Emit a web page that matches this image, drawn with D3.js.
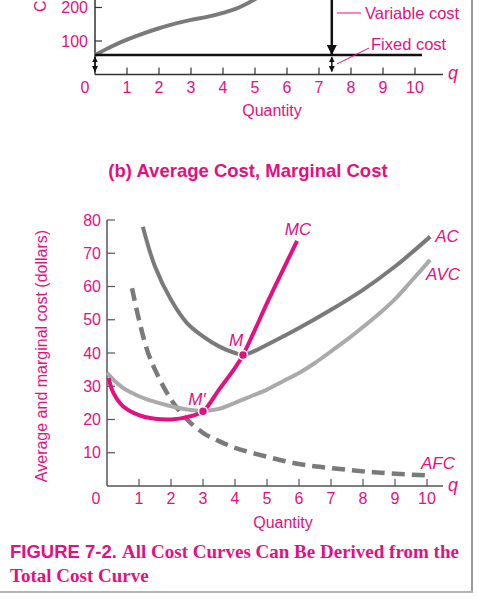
<!DOCTYPE html>
<html>
<head>
<meta charset="utf-8">
<script src="https://cdn.jsdelivr.net/npm/d3@7"></script>
<style>
  body { margin: 0; background: #fff; }
  svg { display: block; font-family: "Liberation Sans", Arial, sans-serif; }
</style>
</head>
<body>
<svg id="chart" width="479" height="600"></svg>
<script>
// data
const qTicks = [1, 2, 3, 4, 5, 6, 7, 8, 9, 10];
const tcTicks = [100, 200];
const costTicks = [10, 20, 30, 40, 50, 60, 70, 80];
const fixedCost = 58;

// (a) total cost (only the lower part is visible)
const tcQ = [0, 0.5, 1, 1.5, 2, 2.5, 3, 3.5, 4, 4.5, 5, 5.4];
const tcV = [58, 83, 104, 122, 138, 152, 163, 172, 184, 200, 225, 252];

// (b) average & marginal cost
const acQ = [1.12, 1.5, 2, 2.5, 3, 3.5, 4, 4.3, 5, 6, 7, 8, 9, 10.1];
const acV = [78, 66, 56, 49, 45, 42, 40, 39.5, 42.5, 47.5, 53, 59, 66, 75];
const avcQ = [0, 0.25, 0.5, 1, 1.5, 2, 2.5, 3, 3.5, 4, 4.5, 5, 5.5, 6, 6.5, 7, 7.5, 8, 8.5, 9, 9.5, 10.1];
const avcV = [34, 31.5, 29.5, 27, 25.3, 24, 23, 22.6, 23.2, 25, 27, 29, 31.5, 34, 37, 40.5, 44, 47.8, 51.8, 56.2, 61.5, 68];
const afcQ = [0.78, 1, 1.25, 1.5, 2, 2.5, 3, 3.5, 4, 5, 6, 7, 8, 9, 10.15];
const afcV = [59.5, 50, 41, 35, 26, 20, 16, 13.5, 11.5, 8.8, 6.6, 5.4, 4.4, 3.7, 3.1];
const mcQ = [0.05, 0.2, 0.5, 1, 1.5, 2, 2.5, 3, 3.5, 4, 4.25, 4.6, 5, 5.5, 5.94];
const mcV = [32.5, 28, 24, 21.3, 20.2, 20, 20.7, 22.5, 29, 35.5, 39.4, 46.5, 55, 65, 73.7];
const pointM = [4.25, 39.4];
const pointM2 = [3.0, 22.5];

const pink = "#e2117f";
const svg = d3.select("#chart");
const zip = (xs, ys) => xs.map((x, i) => [x, ys[i]]);

// card edge / shadow
svg.append("line").attr("x1", 472).attr("x2", 472).attr("y1", 0).attr("y2", 592)
  .attr("stroke", "#9a9a9a").attr("stroke-width", 2);
svg.append("line").attr("x1", 0).attr("x2", 473).attr("y1", 592).attr("y2", 592)
  .attr("stroke", "#b5b5b5").attr("stroke-width", 2);

// ---------- panel (a) ----------
const xa = d3.scaleLinear().domain([0, 10]).range([95, 415]);
const ya = d3.scaleLinear().domain([0, 200]).range([74.5, 7.5]);

const ga = svg.append("g");
ga.append("line").attr("x1", xa(0)).attr("x2", 443).attr("y1", ya(0)).attr("y2", ya(0))
  .attr("stroke", "#333").attr("stroke-width", 1.5);
ga.append("line").attr("x1", xa(0)).attr("x2", xa(0)).attr("y1", 0).attr("y2", ya(0))
  .attr("stroke", "#333").attr("stroke-width", 1.5);
ga.selectAll(".xt").data(qTicks).join("line")
  .attr("x1", d => xa(d)).attr("x2", d => xa(d))
  .attr("y1", ya(0)).attr("y2", ya(0) - 7).attr("stroke", "#333").attr("stroke-width", 1.2);
ga.selectAll(".yt").data(tcTicks).join("line")
  .attr("x1", xa(0)).attr("x2", xa(0) + 7)
  .attr("y1", d => ya(d)).attr("y2", d => ya(d)).attr("stroke", "#333").attr("stroke-width", 1.2);
ga.selectAll(".xl").data([0].concat(qTicks)).join("text")
  .attr("x", d => d === 0 ? xa(0) - 10 : xa(d)).attr("y", 93)
  .attr("text-anchor", "middle").attr("fill", pink).attr("font-size", 16).text(d => d);
ga.selectAll(".yl").data(tcTicks).join("text")
  .attr("x", 88).attr("y", d => ya(d) + 5.5)
  .attr("text-anchor", "end").attr("fill", pink).attr("font-size", 16).text(d => d);
ga.append("text").attr("x", 272).attr("y", 116).attr("text-anchor", "middle")
  .attr("fill", pink).attr("font-size", 16).text("Quantity");
ga.append("text").attr("x", 453).attr("y", 79).attr("text-anchor", "middle")
  .attr("fill", pink).attr("font-size", 18).attr("font-style", "italic").text("q");
// axis title of panel (a): only its first letter shows at the top edge
ga.append("text").attr("transform", "translate(46,12) rotate(-90)")
  .attr("text-anchor", "start").attr("fill", pink).attr("font-size", 16).text("Cost (dollars)");

ga.append("path").datum(zip(tcQ, tcV))
  .attr("d", d3.line().x(d => xa(d[0])).y(d => ya(d[1])).curve(d3.curveMonotoneX))
  .attr("fill", "none").attr("stroke", "#7a7a7a").attr("stroke-width", 4);

// fixed cost line
ga.append("line").attr("x1", xa(0)).attr("x2", 422).attr("y1", ya(fixedCost)).attr("y2", ya(fixedCost))
  .attr("stroke", "#111").attr("stroke-width", 2.5);

// arrows
const defs = svg.append("defs");
defs.append("marker").attr("id", "ah").attr("viewBox", "0 0 10 10").attr("refX", 9).attr("refY", 5)
  .attr("markerWidth", 4).attr("markerHeight", 4).attr("orient", "auto-start-reverse")
  .append("path").attr("d", "M0,0L10,5L0,10z").attr("fill", "#111");

const qArrow = 7.4;
ga.append("line").attr("x1", xa(qArrow)).attr("x2", xa(qArrow)).attr("y1", 0).attr("y2", ya(fixedCost) - 1)
  .attr("stroke", "#111").attr("stroke-width", 2.5).attr("marker-end", "url(#ah)");
[0, qArrow].forEach(q => {
  ga.append("line").attr("x1", xa(q)).attr("x2", xa(q)).attr("y1", ya(fixedCost) + 2).attr("y2", ya(0) - 3)
    .attr("stroke", "#111").attr("stroke-width", 1.5)
    .attr("marker-start", "url(#ah)").attr("marker-end", "url(#ah)");
});
ga.append("line").attr("x1", 337).attr("x2", 361).attr("y1", 13).attr("y2", 13)
  .attr("stroke", pink).attr("stroke-width", 1);
ga.append("text").attr("x", 365).attr("y", 19).attr("fill", pink).attr("font-size", 16.5).text("Variable cost");
ga.append("line").attr("x1", 337).attr("x2", 369).attr("y1", 64).attr("y2", 48)
  .attr("stroke", pink).attr("stroke-width", 1);
ga.append("text").attr("x", 371).attr("y", 50).attr("fill", pink).attr("font-size", 16.5).text("Fixed cost");

// ---------- panel (b) ----------
svg.append("text").attr("x", 248).attr("y", 177).attr("text-anchor", "middle")
  .attr("fill", pink).attr("font-size", 18.5).attr("font-weight", "bold")
  .text("(b) Average Cost, Marginal Cost");

const xb = d3.scaleLinear().domain([0, 10]).range([107, 427]);
const yb = d3.scaleLinear().domain([0, 80]).range([486, 220]);
const gb = svg.append("g");

gb.append("line").attr("x1", xb(0)).attr("x2", 443).attr("y1", yb(0)).attr("y2", yb(0))
  .attr("stroke", "#555").attr("stroke-width", 1.5);
gb.append("line").attr("x1", xb(0)).attr("x2", xb(0)).attr("y1", yb(80)).attr("y2", yb(0))
  .attr("stroke", "#555").attr("stroke-width", 1.5);
gb.selectAll(".xt").data(qTicks).join("line")
  .attr("x1", d => xb(d)).attr("x2", d => xb(d))
  .attr("y1", yb(0)).attr("y2", yb(0) - 7).attr("stroke", "#555").attr("stroke-width", 1.2);
gb.selectAll(".yt").data(costTicks).join("line")
  .attr("x1", xb(0)).attr("x2", xb(0) + 8)
  .attr("y1", d => yb(d)).attr("y2", d => yb(d)).attr("stroke", "#555").attr("stroke-width", 1.2);
gb.selectAll(".xl").data([0].concat(qTicks)).join("text")
  .attr("x", d => d === 0 ? xb(0) - 11 : xb(d)).attr("y", 504)
  .attr("text-anchor", "middle").attr("fill", pink).attr("font-size", 16).text(d => d);
gb.selectAll(".yl").data(costTicks).join("text")
  .attr("x", 101).attr("y", d => yb(d) + 5.5)
  .attr("text-anchor", "end").attr("fill", pink).attr("font-size", 16).text(d => d);
gb.append("text").attr("x", 283).attr("y", 528).attr("text-anchor", "middle")
  .attr("fill", pink).attr("font-size", 16).text("Quantity");
gb.append("text").attr("x", 453).attr("y", 491).attr("text-anchor", "middle")
  .attr("fill", pink).attr("font-size", 18).attr("font-style", "italic").text("q");
gb.append("text").attr("transform", "translate(47,356) rotate(-90)")
  .attr("text-anchor", "middle").attr("fill", pink).attr("font-size", 16)
  .text("Average and marginal cost (dollars)");

const lineB = d3.line().x(d => xb(d[0])).y(d => yb(d[1])).curve(d3.curveCatmullRom);
gb.append("path").datum(zip(afcQ, afcV)).attr("d", lineB)
  .attr("fill", "none").attr("stroke", "#7a7a7a").attr("stroke-width", 4.5)
  .attr("stroke-dasharray", "13,7");
gb.append("path").datum(zip(avcQ, avcV)).attr("d", lineB)
  .attr("fill", "none").attr("stroke", "#aaaaaa").attr("stroke-width", 4);
gb.append("path").datum(zip(acQ, acV)).attr("d", lineB)
  .attr("fill", "none").attr("stroke", "#7a7a7a").attr("stroke-width", 4);
gb.append("path").datum(zip(mcQ, mcV)).attr("d", lineB)
  .attr("fill", "none").attr("stroke", pink).attr("stroke-width", 4);

[pointM, pointM2].forEach(p => {
  gb.append("circle").attr("cx", xb(p[0])).attr("cy", yb(p[1])).attr("r", 4.5)
    .attr("fill", pink).attr("stroke", "#fff").attr("stroke-width", 1.5);
});

const lab = (x, y, t) => gb.append("text").attr("x", x).attr("y", y).attr("text-anchor", "middle")
  .attr("fill", pink).attr("font-size", 17).attr("font-style", "italic").text(t);
lab(298, 235, "MC");
lab(447, 242, "AC");
lab(443, 280, "AVC");
lab(438, 469, "AFC");
lab(236, 346, "M");
lab(197, 405, "M\u2032");

// caption
const cap = svg.append("text").attr("x", 10).attr("y", 558).attr("fill", pink).attr("font-size", 18.5)
  .attr("font-weight", "bold");
cap.append("tspan").attr("font-family", "'Liberation Sans', Arial, sans-serif").text("FIGURE 7-2. ");
cap.append("tspan").attr("font-family", "'Liberation Serif', 'DejaVu Serif', serif").attr("font-size", 19)
  .text("All Cost Curves Can Be Derived from the");
svg.append("text").attr("x", 10).attr("y", 582).attr("fill", pink).attr("font-size", 19)
  .attr("font-weight", "bold").attr("font-family", "'Liberation Serif', 'DejaVu Serif', serif")
  .text("Total Cost Curve");
</script>
</body>
</html>
